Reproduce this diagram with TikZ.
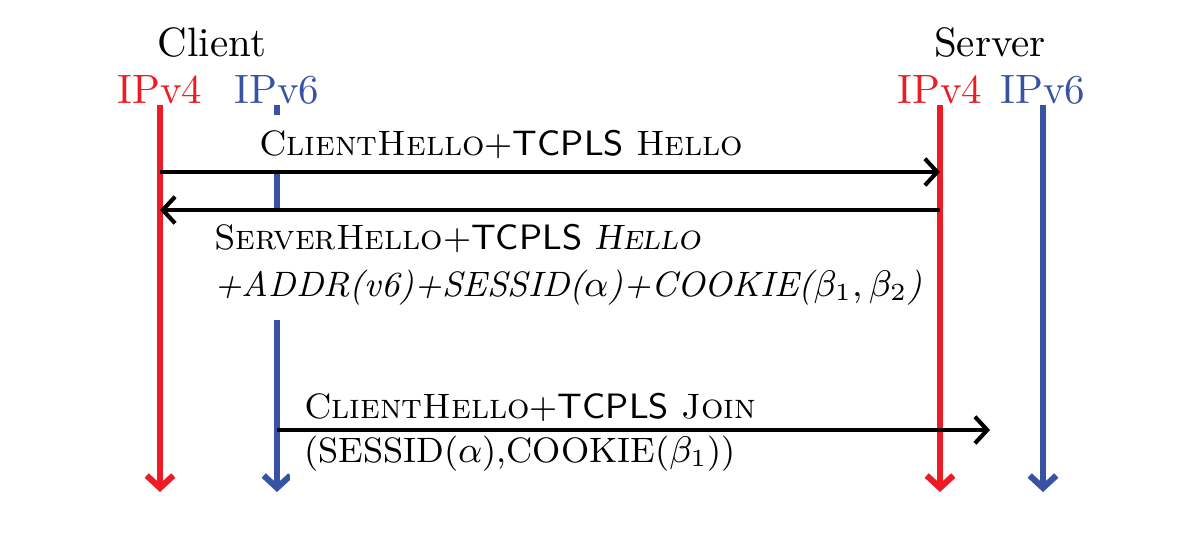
\documentclass[tikz,border=0pt]{standalone}
\usepackage{amsmath}
\usepackage{tikz}
\usetikzlibrary{arrows.meta,positioning}
\definecolor{ipfour}{HTML}{ED1C24}
\definecolor{ipsix}{HTML}{3953A4}

\begin{document}
\begin{tikzpicture}[
    x=0.857cm, y=0.857cm,
    tip/.style={-{Straight Barb[length=3pt,width=6.5pt]}},
    life/.style={tip, line width=1.5pt},
    msg/.style={tip, line width=1pt, black},
    msglabel/.style={fill=white, inner sep=3.5pt, align=left,
        font=\fontsize{8.6}{11.5}\selectfont}
]
    \useasboundingbox (0,0) rectangle (12,5.45);

    % === ENDPOINTS ===
    \node[anchor=base] (client) at (2.12,4.89) {Client};
    \node[anchor=base] (server) at (9.90,4.89) {Server};

    % === LIFELINES ===
    \foreach \n/\x/\c/\label in {c4/1.60/ipfour/IPv4, c6/2.77/ipsix/IPv6, s4/9.40/ipfour/IPv4, s6/10.43/ipsix/IPv6} {
        \coordinate (\n top) at (\x,4.40);
        \coordinate (\n bot) at (\x,0.53);
        \node[\c, anchor=south, inner sep=0pt] (\n lab) at (\n top) {\label};
        \draw[life, \c] (\n top) -- (\n bot);
    }

    % === MESSAGE LABELS ===
    \node[msglabel, anchor=base west] (hellolab) at (2.44,3.90)
        {\textsc{ClientHello}+\textsf{TCPLS} \textsc{Hello}};
    \node[msglabel, anchor=north west] (replylab) at (1.99,3.36)
        {\textsc{ServerHello}+\textsf{TCPLS} \textit{\textsc{Hello}}\\
         \textit{+ADDR(v6)+SESSID($\alpha$)+COOKIE($\beta_1, \beta_2$)}};
    \node[msglabel, anchor=base west] (joinlab) at (2.89,1.27)
        {\textsc{ClientHello}+\textsf{TCPLS} \textsc{Join}};
    \node[msglabel, anchor=base west] (joinargs) at (2.89,0.83)
        {(SESSID($\alpha$),COOKIE($\beta_1$))};

    % === MESSAGES ===
    \coordinate (hello a) at (1.60,3.73);
    \coordinate (hello b) at (9.40,3.73);
    \coordinate (reply a) at (9.40,3.35);
    \coordinate (reply b) at (1.60,3.35);
    \coordinate (join a) at (2.77,1.15);
    \coordinate (join b) at (9.90,1.15);

    \draw[msg] (hello a) -- (hello b);
    \draw[msg] (reply a) -- (reply b);
    \draw[msg] (join a) -- (join b);
\end{tikzpicture}
\end{document}
